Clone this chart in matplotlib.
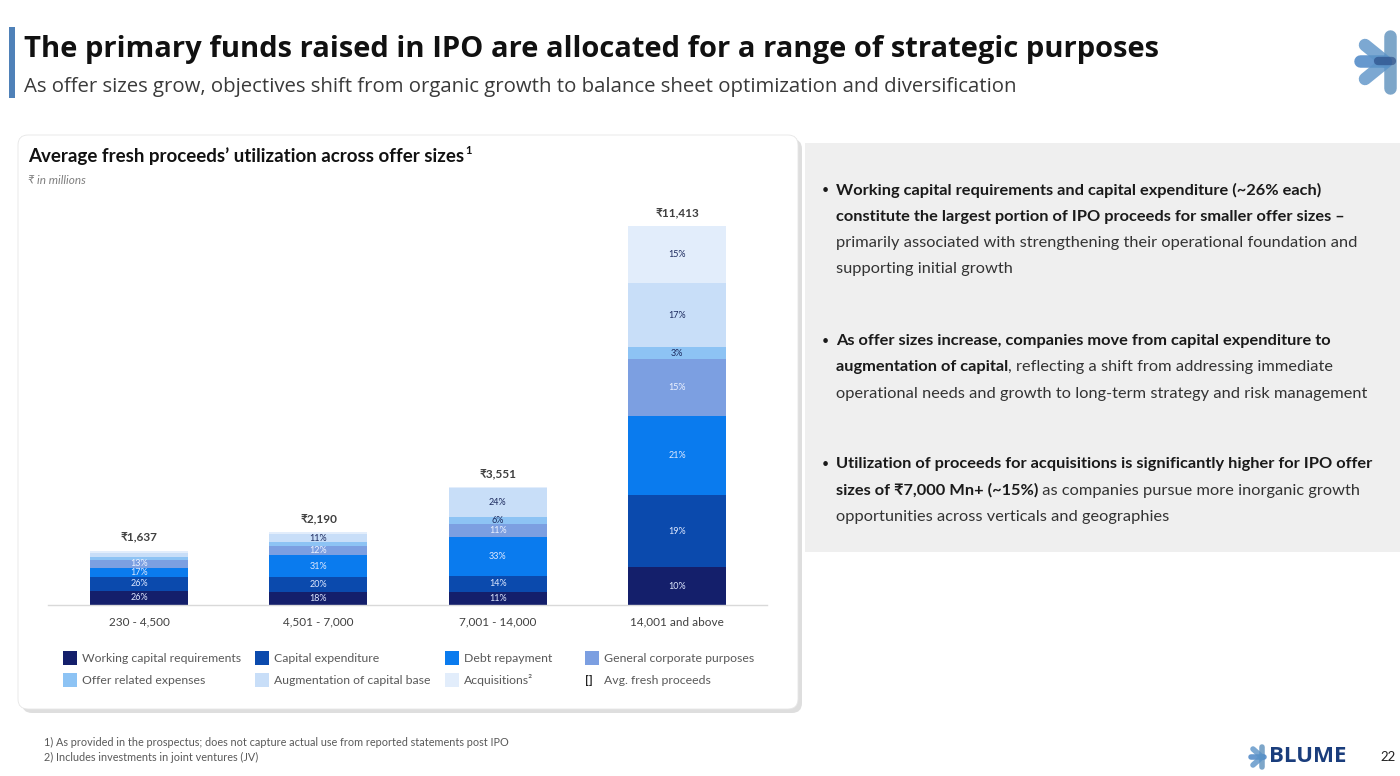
import numpy as np
import matplotlib
matplotlib.use('Agg')
import matplotlib.pyplot as plt
from matplotlib.patches import FancyBboxPatch, Rectangle

BODY = ['Lato', 'DejaVu Sans']
HEAD = ['Open Sans', 'DejaVu Sans']

categories = ['230 - 4,500', '4,501 - 7,000', '7,001 - 14,000', '14,001 and above']
avg_proceeds = [1637, 2190, 3551, 11413]

# share of fresh proceeds (%) by purpose, one value per offer-size bucket
working_capital = [26, 18, 11, 10]
capex = [26, 20, 14, 19]
debt_repayment = [17, 31, 33, 21]
general_corporate = [13, 12, 11, 15]
offer_expenses = [6, 5, 6, 3]
augmentation = [7, 11, 24, 17]
acquisitions = [5, 3, 1, 15]

series_names = ['Working capital requirements', 'Capital expenditure', 'Debt repayment',
                'General corporate purposes', 'Offer related expenses',
                'Augmentation of capital base', 'Acquisitions²']
series_vals = [working_capital, capex, debt_repayment, general_corporate,
               offer_expenses, augmentation, acquisitions]
colors = ['#141f6b', '#0b4aad', '#0a7bee', '#7c9fe1', '#8dc3f4', '#c8def8', '#e2edfb']
label_colors = ['#dfe9ff', '#dfe9ff', '#dfe9ff', '#eef3ff', '#1c2a5e', '#1c2a5e', '#1c2a5e']

W, H = 1400, 776
fig = plt.figure(figsize=(W / 100, H / 100), dpi=100)
fig.patch.set_facecolor('white')

# full-figure canvas in pixel coordinates for the slide decoration
bg = fig.add_axes([0, 0, 1, 1], zorder=0)
bg.set_xlim(0, W)
bg.set_ylim(H, 0)
bg.axis('off')

fig.canvas.draw()
renderer = fig.canvas.get_renderer()


def right_edge(t):
    bb = t.get_window_extent(renderer)
    return bg.transData.inverted().transform((bb.x1, bb.y0))[0]


# header
bg.add_patch(Rectangle((9, 27), 6, 71, color='#4f81b8', lw=0))
bg.text(24, 50, 'The primary funds raised in IPO are allocated for a range of strategic purposes',
        fontsize=21, fontweight='bold', family=HEAD, color='#111111', va='center')
bg.text(24, 87, 'As offer sizes grow, objectives shift from organic growth to balance sheet '
        'optimization and diversification', fontsize=14.7, family=HEAD, color='#3a3a3a', va='center')

# top-right logo mark
bg.plot([1390, 1390], [36, 88], color='#6f9cc4', lw=9, solid_capstyle='round', alpha=0.9)
bg.plot([1360, 1384], [61, 61], color='#4b86c6', lw=9, solid_capstyle='round', alpha=0.85)
bg.plot([1365, 1386], [45, 62], color='#5b93c7', lw=9, solid_capstyle='round', alpha=0.8)
bg.plot([1365, 1386], [79, 62], color='#5b93c7', lw=9, solid_capstyle='round', alpha=0.8)
bg.plot([1378, 1392], [61, 61], color='#1e3c78', lw=6, alpha=0.55, solid_capstyle='round')

# chart panel with shadow
bg.add_patch(FancyBboxPatch((22, 139), 780, 574, boxstyle='round,pad=0,rounding_size=10',
                            fc='#c9c9c9', ec='none', alpha=0.6))
bg.add_patch(FancyBboxPatch((18, 135), 780, 574, boxstyle='round,pad=0,rounding_size=10',
                            fc='white', ec='#e6e6e6', lw=0.6))
t = bg.text(28, 156, 'Average fresh proceeds’ utilization across offer sizes', fontsize=13.5,
            fontweight='bold', family=BODY, color='#111111', va='center')
bg.text(right_edge(t) + 1, 150, '1', fontsize=8, fontweight='bold', family=BODY, color='#111111',
        va='center')
bg.text(28, 180, '₹ in millions', fontsize=8.5, style='italic', family=BODY, color='#7f7f7f', va='center')

# right commentary panel
bg.add_patch(Rectangle((805, 143), 595, 409, color='#efefef', lw=0))


def rich_line(x, y, parts, size=11.8):
    for txt, weight in parts:
        t = bg.text(x, y, txt, fontsize=size, fontweight=weight, family=BODY,
                    color='#1a1a1a' if weight == 'bold' else '#333333', va='center')
        x = right_edge(t)


bullets = [
    (190, [[('Working capital requirements and capital expenditure (~26% each)', 'bold')],
           [('constitute the largest portion of IPO proceeds for smaller offer sizes –', 'bold')],
           [('primarily associated with strengthening their operational foundation and', 'normal')],
           [('supporting initial growth', 'normal')]]),
    (341, [[('As offer sizes increase, companies move from capital expenditure to', 'bold')],
           [('augmentation of capital', 'bold'), (', reflecting a shift from addressing immediate', 'normal')],
           [('operational needs and growth to long-term strategy and risk management', 'normal')]]),
    (464, [[('Utilization of proceeds for acquisitions is significantly higher for IPO offer', 'bold')],
           [('sizes of ₹7,000 Mn+ (~15%)', 'bold'), (' as companies pursue more inorganic growth', 'normal')],
           [('opportunities across verticals and geographies', 'normal')]]),
]
for y0, lines in bullets:
    bg.text(822, y0, '•', fontsize=9, family=BODY, color='#1a1a1a', va='center')
    for i, parts in enumerate(lines):
        rich_line(836, y0 + i * 26.5, parts)

# chart axes
ax = fig.add_axes([48 / W, (H - 605) / H, 719 / W, 405 / H], zorder=2)
ax.patch.set_alpha(0)
x = np.arange(len(categories))
bottom = np.zeros(len(categories))
totals = np.array(avg_proceeds, dtype=float)
for vals, col, lc in zip(series_vals, colors, label_colors):
    seg = totals * np.array(vals) / 100
    ax.bar(x, seg, bottom=bottom, width=0.547, color=col, lw=0)
    for xi, b, s, v in zip(x, bottom, seg, vals):
        if s >= 150:
            ax.text(xi, b + s / 2, f'{v}%', ha='center', va='center', fontsize=6.5,
                    family=BODY, color=lc)
    bottom += seg

for xi, tot in zip(x, avg_proceeds):
    ax.annotate(f'₹{tot:,}', (xi, tot), xytext=(0, 5), textcoords='offset points', ha='center',
                va='bottom', fontsize=8.5, fontweight='bold', family=BODY, color='#404040')

ax.set_xlim(-0.5075, 3.502)
ax.set_ylim(0, 12200)
ax.set_xticks(x)
ax.set_xticklabels(categories, fontsize=8.5, family=BODY, color='#404040')
ax.tick_params(axis='x', length=0, pad=8)
ax.set_yticks([])
for s in ['top', 'right', 'left']:
    ax.spines[s].set_visible(False)
ax.spines['bottom'].set_color('#d9d9d9')
ax.spines['bottom'].set_linewidth(1)

# legend
leg_pos = [(63, 658), (255, 658), (445, 658), (585, 658),
           (63, 680), (255, 680), (445, 680)]
for (lx, ly), name, col in zip(leg_pos, series_names, colors):
    bg.add_patch(Rectangle((lx, ly - 7), 14, 14, color=col, lw=0, zorder=3))
    bg.text(lx + 19, ly, name, fontsize=8.8, family=BODY, color='#595959', va='center', zorder=3)
bg.text(585, 680, '[]', fontsize=8.8, fontweight='bold', family=BODY, color='#222222', va='center', zorder=3)
bg.text(604, 680, 'Avg. fresh proceeds', fontsize=8.8, family=BODY, color='#595959', va='center', zorder=3)

# footnotes
bg.text(44, 742, '1) As provided in the prospectus; does not capture actual use from reported statements post IPO',
        fontsize=7.8, family=BODY, color='#595959', va='center')
bg.text(44, 757, '2) Includes investments in joint ventures (JV)',
        fontsize=7.8, family=BODY, color='#595959', va='center')

# bottom-right brand
bg.plot([1262, 1262], [747, 767], color='#6f9cc4', lw=4, solid_capstyle='round', alpha=0.9)
bg.plot([1251, 1264], [757, 757], color='#4b86c6', lw=4, solid_capstyle='round', alpha=0.85)
bg.plot([1253, 1262], [749, 757], color='#5b93c7', lw=4, solid_capstyle='round', alpha=0.8)
bg.plot([1253, 1262], [765, 757], color='#5b93c7', lw=4, solid_capstyle='round', alpha=0.8)
bg.text(1269, 757, 'BLUME', fontsize=16, fontweight='bold', family=HEAD, color='#1a3d7c', va='center')
bg.text(1380, 757, '22', fontsize=9.5, family=BODY, color='#222222', va='center')

fig.savefig('out.png', dpi=100)
